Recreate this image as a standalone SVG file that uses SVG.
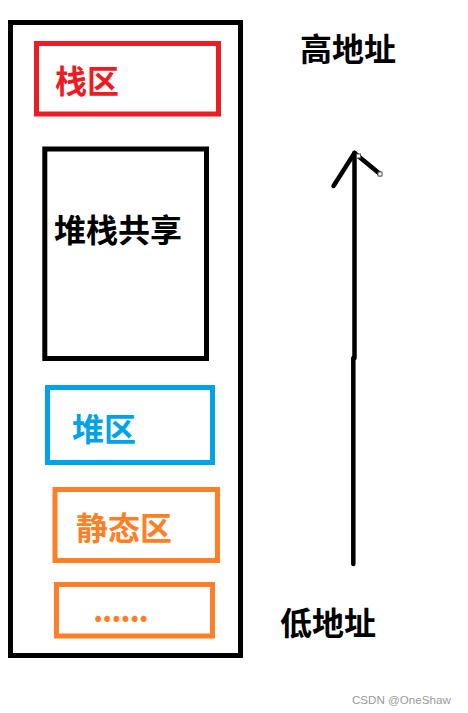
<svg xmlns="http://www.w3.org/2000/svg" width="468" height="713" viewBox="0 0 468 713">
<style>
.box{fill:none;stroke-width:5}
.lbl{font-family:"Noto Sans CJK SC","Microsoft YaHei",sans-serif;font-weight:bold;font-size:32px}
.conn{stroke:#000;stroke-width:4.5;stroke-linecap:round;fill:none}
.hdl{fill:#fff;stroke:#555;stroke-width:1}
</style>
<rect width="468" height="713" fill="#fff"/>
<g id="memory">
<rect class="box" x="10.5" y="22.5" width="230" height="633" stroke="#000"/>
</g>
<g id="stack">
<rect class="box" x="36.5" y="43.5" width="182" height="70.5" stroke="#ED1C24"/>
<text class="lbl" x="55" y="93" fill="#ED1C24">栈区</text>
</g>
<g id="shared">
<rect class="box" x="44.8" y="149" width="161.7" height="209.5" stroke="#000"/>
<text class="lbl" x="54" y="242" fill="#000">堆栈共享</text>
</g>
<g id="heap">
<rect class="box" x="47.5" y="387.5" width="165" height="75" stroke="#00A2E8"/>
<text class="lbl" x="72" y="441" fill="#00A2E8">堆区</text>
</g>
<g id="static">
<rect class="box" x="55" y="489.5" width="162.5" height="71" stroke="#FF7F27"/>
<text class="lbl" x="76" y="540" fill="#FF7F27">静态区</text>
</g>
<g id="other">
<rect class="box" x="56.5" y="584.5" width="156" height="51.5" stroke="#FF7F27"/>
<text class="lbl" x="93" y="622" fill="#FF7F27" letter-spacing="-1.3">......</text>
</g>
<g id="high">
<text class="lbl" x="300" y="61" fill="#000">高地址</text>
</g>
<g id="low">
<text class="lbl" x="280" y="635" fill="#000">低地址</text>
</g>
<g id="connectors">
<line class="conn" x1="354.5" y1="153" x2="354.5" y2="358" stroke-linecap="butt"/>
<line class="conn" x1="353.3" y1="358" x2="353.3" y2="564"/>
<line class="conn" x1="333.5" y1="186" x2="354.5" y2="153"/>
<line class="conn" x1="354.5" y1="153" x2="380" y2="174"/>
<rect class="hdl" x="356.5" y="154" width="4" height="4"/>
<rect class="hdl" x="378" y="172" width="4" height="4"/>
</g>
<text x="352" y="704" font-family="Liberation Sans,Arial,sans-serif" font-size="11.6" fill="#999">CSDN @OneShaw</text>
</svg>
